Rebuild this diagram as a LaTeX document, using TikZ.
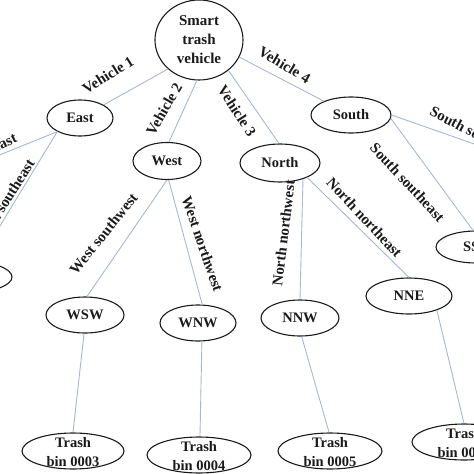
\documentclass[tikz,border=0pt]{standalone}
\usepackage{fontspec}
\setmainfont{Liberation Serif}
\usetikzlibrary{shapes.geometric}
\definecolor{lineblue}{HTML}{A9B6CB}
\definecolor{inkc}{HTML}{1A1A1A}
\begin{document}
\begin{tikzpicture}[x=1pt,y=-1pt,
  nd/.style={draw=inkc, line width=1.1pt, ellipse, inner sep=0pt, align=center,
    text=inkc, font=\fontsize{14.5}{19}\selectfont\bfseries},
  lab/.style={inner sep=0pt, text=inkc, font=\fontsize{15}{18}\selectfont\bfseries},
  conn/.style={draw=lineblue, line width=0.9pt},
  bintext/.style={inner sep=0pt, align=center, text=inkc, font=\fontsize{14.5}{19}\selectfont\bfseries}]
\useasboundingbox (0,0) rectangle (474,474);
\clip (0,0) rectangle (474,474);
% nodes
\node[nd, minimum width=88pt, minimum height=80pt, font=\fontsize{15}{19}\selectfont\bfseries] (root) at (199,40) {Smart\\trash\\vehicle};
\node[nd, minimum width=66pt, minimum height=36pt] (east) at (80,118) {East};
\node[nd, minimum width=68pt, minimum height=37pt] (west) at (167,161) {West};
\node[nd, minimum width=80pt, minimum height=36pt] (south) at (351,115) {South};
\node[nd, minimum width=80pt, minimum height=38pt] (north) at (280,163) {North};
\node[nd, minimum width=80pt, minimum height=30pt] (ese) at (-28,277) {};
\node[nd, minimum width=80pt, minimum height=32pt] (sse) at (476,247) {SSE};
\node[nd, minimum width=78pt, minimum height=36pt] (wsw) at (85,315) {WSW};
\node[nd, minimum width=76pt, minimum height=36pt] (wnw) at (198,323) {WNW};
\node[nd, minimum width=78pt, minimum height=36pt] (nnw) at (300,318) {NNW};
\node[nd, minimum width=86pt, minimum height=36pt] (nne) at (409,296) {NNE};
\node[nd, minimum width=102pt, minimum height=36pt] (t3) at (73,451) {};
\node[nd, minimum width=104pt, minimum height=36pt] (t4) at (199,455) {};
\node[nd, minimum width=104pt, minimum height=36pt] (t5) at (330,451) {};
\node[nd, minimum width=104pt, minimum height=36pt] (t6) at (464,442) {};
\node[bintext] (t3txt) at ([yshift=-1pt]t3.center) {Trash\\bin 0003};
\node[bintext] (t4txt) at ([yshift=-1pt]t4.center) {Trash\\bin 0004};
\node[bintext] (t5txt) at ([yshift=-1pt]t5.center) {Trash\\bin 0005};
\node[bintext] (t6txt) at ([yshift=-1pt]t6.center) {Trash\\bin 0006};
\coordinate (ene) at (-60,179);
\coordinate (ssw) at (520,160);
% connectors
\draw[conn] (root.223) -- (east.29);
\draw[conn] (root.267) -- (west.84);
\draw[conn] (root.314) -- (north.93);
\draw[conn] (root.337) -- (south.153);
\draw[conn] (east.211) -- (ene);
\draw[conn] (east.211) -- (ese.68);
\draw[conn] (west.270) -- (wsw.84);
\draw[conn] (west.275) -- (wnw.77);
\draw[conn] (wsw.267) -- (t3.90);
\draw[conn] (wnw.282) -- (t4.87);
\draw[conn] (north.325) -- (nnw.90);
\draw[conn] (north.332) -- (nne.90);
\draw[conn] (nnw.275) -- (t5.93);
\draw[conn] (nne.333) -- (t6.90);
\draw[conn] (south.355) -- (sse.100);
\draw[conn] (south.0) -- (ssw);
% labels
\node[lab, rotate=32] (v1) at (108,75) {Vehicle 1};
\node[lab, rotate=60] (v2) at (164,109) {Vehicle 2};
\node[lab, rotate=-57] (v3) at (237,111) {Vehicle 3};
\node[lab, rotate=-31] (v4) at (284.5,65) {Vehicle 4};
\node[lab, rotate=-47] (ssel) at (407.5,182.5) {South southeast};
\node[lab, rotate=-28, anchor=west] (sswl) at (431,110) {South southwest};
\node[lab, rotate=25, anchor=east] (enel) at (16,137) {East northeast};
\node[lab, rotate=58, anchor=east] (esel) at (31,160) {East southeast};
\node[lab, rotate=51] (wswl) at (103.5,233.5) {West southwest};
\node[lab, rotate=-71] (wnwl) at (202.5,244) {West northwest};
\node[lab, rotate=83] (nnwl) at (283.5,233) {North northwest};
\node[lab, rotate=-47] (nnel) at (364.5,217.5) {North northeast};
\end{tikzpicture}
\end{document}
